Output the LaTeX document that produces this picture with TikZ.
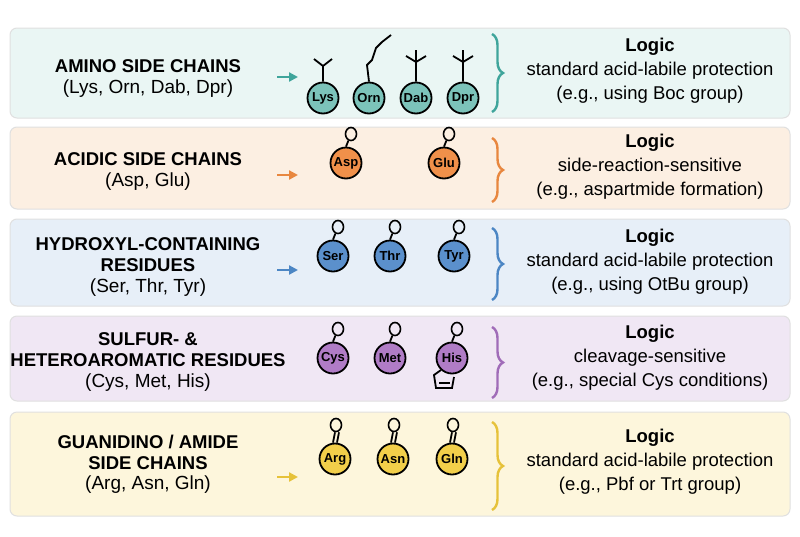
\documentclass[tikz,border=0pt]{standalone}
\usepackage{fontspec}
\setmainfont{Liberation Sans}
\usetikzlibrary{decorations.pathreplacing,arrows.meta,shapes.geometric}
\definecolor{tF}{HTML}{7CC3BA}\definecolor{tB}{HTML}{EAF6F4}\definecolor{tD}{HTML}{3FA59B}
\definecolor{oF}{HTML}{F0904A}\definecolor{oB}{HTML}{FCEFE2}\definecolor{oD}{HTML}{E8873F}
\definecolor{bF}{HTML}{5B90CC}\definecolor{bB}{HTML}{E7EFF8}\definecolor{bD}{HTML}{4C86C4}
\definecolor{pF}{HTML}{B07CC6}\definecolor{pB}{HTML}{F0E7F4}\definecolor{pD}{HTML}{A06CB8}
\definecolor{yF}{HTML}{F2CF4A}\definecolor{yB}{HTML}{FDF6DC}\definecolor{yD}{HTML}{E6C23A}
\begin{document}
\begin{tikzpicture}[x=1pt,y=-1pt,
 panel/.style={rounded corners=7pt,draw=black!12,line width=1pt},
 res/.style={circle,draw=black,line width=1.8pt,minimum size=31pt,inner sep=0pt,font=\fontsize{13}{14}\selectfont\bfseries},
 head/.style={align=center,font=\fontsize{18.5}{21}\selectfont\bfseries},
 sub/.style={align=center,font=\fontsize{19}{21}\selectfont},
 rt/.style={align=center,font=\fontsize{18.5}{24}\selectfont},
 arr/.style={-{Triangle[length=9pt,width=9pt]},line width=2.2pt},
 br/.style={decorate,decoration={brace,amplitude=11pt},line width=2.4pt},
 bond/.style={line width=1.8pt},
 oxy/.style={ellipse,draw=black,line width=1.6pt,minimum width=11pt,minimum height=13pt,inner sep=0pt}]
\useasboundingbox (0,0) rectangle (800,536);
\fill[white] (0,0) rectangle (800,536);
% panels
\draw[panel,fill=tB] (10,28) rectangle (790,118);
\draw[panel,fill=oB] (10,127) rectangle (790,209);
\draw[panel,fill=bB] (10,219) rectangle (790,306);
\draw[panel,fill=pB] (10,316) rectangle (790,401);
\draw[panel,fill=yB] (10,412) rectangle (790,516);
% left texts
\node[head] (h1) at (148,66) {AMINO SIDE CHAINS};
\node[sub] (s1) at (148,89) {(Lys, Orn, Dab, Dpr)};
\node[head] (h2) at (148,159) {ACIDIC SIDE CHAINS};
\node[sub] (s2) at (148,182) {(Asp, Glu)};
\node[head] (h3) at (148,255) {HYDROXYL-CONTAINING\\RESIDUES};
\node[sub] (s3) at (148,288) {(Ser, Thr, Tyr)};
\node[head] (h4) at (148,350) {SULFUR- \&\\HETEROAROMATIC RESIDUES};
\node[sub] (s4) at (148,383) {(Cys, Met, His)};
\node[head] (h5) at (148,452) {GUANIDINO / AMIDE\\SIDE CHAINS};
\node[sub] (s5) at (148,485) {(Arg, Asn, Gln)};
% arrows
\coordinate (a1s) at (277,77); \coordinate (a1e) at (298,77);
\draw[arr,tD] (a1s) -- (a1e);
\coordinate (a2s) at (277,175); \coordinate (a2e) at (298,175);
\draw[arr,oD] (a2s) -- (a2e);
\coordinate (a3s) at (277,270); \coordinate (a3e) at (298,270);
\draw[arr,bD] (a3s) -- (a3e);
\coordinate (a5s) at (277,477); \coordinate (a5e) at (298,477);
\draw[arr,yD] (a5s) -- (a5e);
% panel 1 residues
\node[res,fill=tF] (lys) at (323,98) {Lys};
\node[res,fill=tF] (orn) at (369,98) {Orn};
\node[res,fill=tF] (dab) at (416,98) {Dab};
\node[res,fill=tF] (dpr) at (463,98) {Dpr};
\coordinate (lysb) at (323,66);
\draw[bond] (lys.north) -- (lysb) -- (314,59) (lysb) -- (332,59);
\draw[bond] (orn.north) -- (367,65) -- (372,60) -- (376,48) -- (382,42) -- (391,35);
\coordinate (dabb) at (416,62);
\draw[bond] (dab.north) -- (416,50) (dabb) -- (406,56) (dabb) -- (426,56);
\coordinate (dprb) at (463,62);
\draw[bond] (dpr.north) -- (463,50) (dprb) -- (453,56) (dprb) -- (473,56);
% panel 2
\node[res,fill=oF] (asp) at (346,163) {Asp};
\node[res,fill=oF] (glu) at (444,163) {Glu};
\node[oxy] (oasp) at (351,134) {}; \draw[bond] (asp.north) -- (oasp);
\node[oxy] (oglu) at (449,134) {}; \draw[bond] (glu.north) -- (oglu);
% panel 3
\node[res,fill=bF] (ser) at (333,256) {Ser};
\node[res,fill=bF] (thr) at (390,256) {Thr};
\node[res,fill=bF] (tyr) at (454,256) {Tyr};
\foreach \r in {ser,thr,tyr}{\node[oxy] (o\r) at ([xshift=5pt,yshift=29pt]\r.center) {}; \draw[bond] (\r.north) -- (o\r);}
% panel 4
\node[res,fill=pF] (cys) at (333,358) {Cys};
\node[res,fill=pF] (met) at (390,358) {Met};
\node[res,fill=pF] (his) at (452,358) {His};
\foreach \r in {cys,met,his}{\node[oxy] (o\r) at ([xshift=5pt,yshift=29pt]\r.center) {}; \draw[bond] (\r.north) -- (o\r);}
\draw[bond] (441,370) -- (434,375) -- (436,388) -- (452,388) -- (454,377);
\draw[bond] (439,383) -- (450,383);
% panel 5
\node[res,fill=yF] (arg) at (335,459) {Arg};
\node[res,fill=yF] (asn) at (393,459) {Asn};
\node[res,fill=yF] (gln) at (452,459) {Gln};
\foreach \r in {arg,asn,gln}{\node[oxy] (o\r) at ([xshift=1pt,yshift=34pt]\r.center) {};
 \draw[bond] ([xshift=-2pt]\r.north) -- ([xshift=-1pt]o\r.south); \draw[bond] ([xshift=2pt]\r.north) -- ([xshift=3pt]o\r.south);}
% braces
\draw[br,tD] (492,34) -- (492,112);
\draw[br,oD] (492,138) -- (492,202);
\draw[br,bD] (492,228) -- (492,300);
\draw[br,pD] (492,327) -- (492,398);
\draw[br,yD] (492,422) -- (492,510);
% right texts
\node[rt] (r1) at (650,71) {\textbf{Logic}\\standard acid-labile protection\\(e.g., using Boc group)};
\node[rt] (r2) at (650,167) {\textbf{Logic}\\side-reaction-sensitive\\(e.g., aspartmide formation)};
\node[rt] (r3) at (650,262) {\textbf{Logic}\\standard acid-labile protection\\(e.g., using OtBu group)};
\node[rt] (r4) at (650,358) {\textbf{Logic}\\cleavage-sensitive\\(e.g., special Cys conditions)};
\node[rt] (r5) at (650,462) {\textbf{Logic}\\standard acid-labile protection\\(e.g., Pbf or Trt group)};
\end{tikzpicture}
\end{document}
